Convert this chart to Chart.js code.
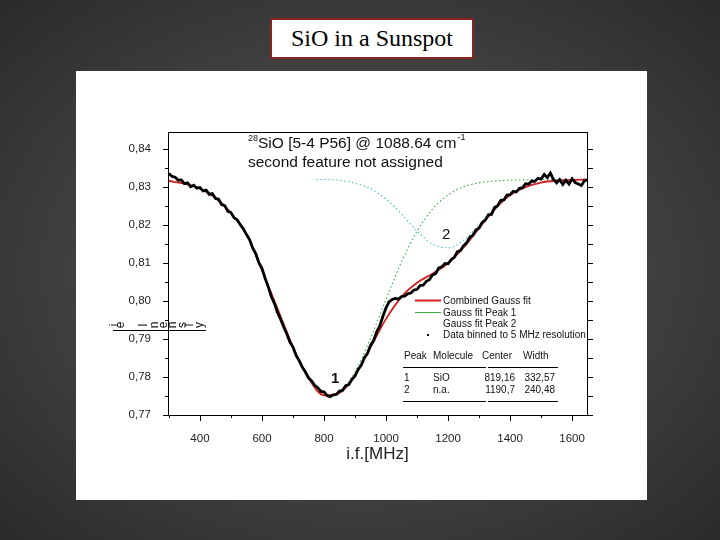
<!DOCTYPE html>
<html>
<head>
<meta charset="utf-8">
<script src="https://cdn.jsdelivr.net/npm/chart.js@4.4.0/dist/chart.umd.min.js"></script>
<style>
html, body { margin: 0; padding: 0; width: 720px; height: 540px; overflow: hidden; }
body {
    position: relative;
    background: radial-gradient(ellipse at 50% 50%, #5a5a5a 0%, #454545 45%, #2a2a2a 100%);
}
#slideTitle {
    position: absolute; left: 270px; top: 18px; width: 200px; height: 37px;
    background: #fff; border: 2px solid #8a2323;
    font-family: "Liberation Serif", "Times New Roman", serif; font-size: 24px;
    line-height: 37px; text-align: center; color: #000;
}
#panel { position: absolute; left: 76px; top: 71px; width: 571px; height: 429px; background: #fff; }
#energy { position: absolute; left: 0; top: 0; }
</style>
</head>
<body>
<div id="slideTitle">SiO in a Sunspot</div>
<div id="panel"></div>
<canvas id="energy" width="720" height="540"></canvas>
<script>
const dataFreq = [
    300, 310, 320, 330, 340, 350, 360, 370, 380, 390,
    400, 410, 420, 430, 440, 450, 460, 470, 480, 490,
    500, 510, 520, 530, 540, 550, 560, 570, 580, 590,
    600, 610, 620, 630, 640, 650, 660, 670, 680, 690,
    700, 710, 720, 730, 740, 750, 760, 770, 780, 790,
    800, 810, 820, 830, 840, 850, 860, 870, 880, 890,
    900, 910, 920, 930, 940, 950, 960, 970, 980, 990,
    1000, 1010, 1020, 1030, 1040, 1050, 1060, 1070, 1080, 1090,
    1100, 1110, 1120, 1130, 1140, 1150, 1160, 1170, 1180, 1190,
    1200, 1210, 1220, 1230, 1240, 1250, 1260, 1270, 1280, 1290,
    1300, 1310, 1320, 1330, 1340, 1350, 1360, 1370, 1380, 1390,
    1400, 1410, 1420, 1430, 1440, 1450, 1460, 1470, 1480, 1490,
    1500, 1510, 1520, 1530, 1540, 1550, 1560, 1570, 1580, 1590,
    1600, 1610, 1620, 1630, 1640, 1650
];
const dataValue = [
    0.8336, 0.8328, 0.8326, 0.8318, 0.8319, 0.8309, 0.8311, 0.8301, 0.8305, 0.8297,
    0.8299, 0.8290, 0.8292, 0.8281, 0.8283, 0.8270, 0.8268, 0.8254, 0.8251, 0.8236,
    0.8233, 0.8219, 0.8214, 0.8201, 0.8190, 0.8175, 0.8162, 0.8140, 0.8125, 0.8101,
    0.8086, 0.8060, 0.8038, 0.8012, 0.7994, 0.7970, 0.7952, 0.7932, 0.7914, 0.7892,
    0.7879, 0.7857, 0.7843, 0.7826, 0.7813, 0.7798, 0.7790, 0.7778, 0.7772, 0.7762,
    0.7761, 0.7751, 0.7748, 0.7753, 0.7754, 0.7763, 0.7765, 0.7777, 0.7780, 0.7794,
    0.7803, 0.7820, 0.7831, 0.7851, 0.7862, 0.7883, 0.7896, 0.7919, 0.7935, 0.7960,
    0.7982, 0.7998, 0.8004, 0.8007, 0.8005, 0.8012, 0.8013, 0.8019, 0.8021, 0.8029,
    0.8031, 0.8041, 0.8042, 0.8052, 0.8056, 0.8069, 0.8072, 0.8087, 0.8090, 0.8099,
    0.8098, 0.8109, 0.8115, 0.8130, 0.8133, 0.8146, 0.8153, 0.8168, 0.8173, 0.8187,
    0.8192, 0.8207, 0.8213, 0.8227, 0.8228, 0.8246, 0.8251, 0.8265, 0.8266, 0.8279,
    0.8280, 0.8289, 0.8287, 0.8297, 0.8298, 0.8309, 0.8308, 0.8316, 0.8315, 0.8323,
    0.8321, 0.8333, 0.8325, 0.8337, 0.8320, 0.8311, 0.8320, 0.8307, 0.8318, 0.8308,
    0.8322, 0.8312, 0.8308, 0.8304, 0.8317, 0.8318
];

// Fit curves (every 50 MHz)
const fitFreq = [
    300, 350, 400, 450, 500, 550, 600, 650, 700, 750,
    800, 850, 900, 950, 1000, 1050, 1100, 1150, 1200, 1250,
    1300, 1350, 1400, 1450, 1500, 1550, 1600, 1650
];
const combinedFit = [
    0.8316, 0.8309, 0.8296, 0.8272, 0.8232, 0.8176, 0.8081, 0.7980, 0.7879, 0.7797,
    0.7752, 0.7758, 0.7804, 0.7878, 0.7953, 0.8011, 0.8048, 0.8072, 0.8099, 0.8141,
    0.8192, 0.8241, 0.8279, 0.8300, 0.8312, 0.8317, 0.8319, 0.8320
];
const peak1Fit = [
    0.8316, 0.8309, 0.8296, 0.8272, 0.8232, 0.8176, 0.8081, 0.7980, 0.7879, 0.7797,
    0.7752, 0.7760, 0.7814, 0.7902, 0.8005, 0.8103, 0.8184, 0.8242, 0.8279, 0.8301,
    0.8311, 0.8316, 0.8318, 0.8319, 0.8320, 0.8320, 0.8320, 0.8320
];
const peak2Freq = [
    775, 800, 850, 900, 950, 1000, 1050, 1100, 1150, 1200,
    1250, 1300, 1350, 1400, 1450, 1500, 1550, 1600, 1650
];
const peak2Fit = [
    0.8320, 0.8320, 0.8318, 0.8310, 0.8296, 0.8268, 0.8229, 0.8184, 0.8150, 0.8140,
    0.8160, 0.8201, 0.8245, 0.8281, 0.8302, 0.8313, 0.8318, 0.8320, 0.8320
];

// Axis ticks
const xMajorTicks = [400, 600, 800, 1000, 1200, 1400, 1600];
const xMinorTicks = [300, 500, 700, 900, 1100, 1300, 1500];
const yMajorTicks = [0.77, 0.78, 0.79, 0.80, 0.81, 0.82, 0.83, 0.84];
const yMinorTicks = [0.775, 0.785, 0.795, 0.805, 0.815, 0.825, 0.835];

// Legend and peak table text
const legendLabels = ['Combined Gauss fit', 'Gauss fit Peak 1', 'Gauss fit Peak 2', 'Data binned to 5 MHz resolution'];
const tableHeader = ['Peak', 'Molecule', 'Center', 'Width'];
const tableRows = [
    ['1', 'SiO', '819,16', '332,57'],
    ['2', 'n.a.', '1190,7', '240,48']
];

function pairs(xs, ys) {
    return xs.map((x, i) => ({ x: x, y: ys[i] }));
}

// Frame, tick marks and all the text drawn inside the plot
const extras = {
    id: 'extras',
    afterDraw(chart) {
        const ctx = chart.ctx;
        const a = chart.chartArea;
        const x = chart.scales.x;
        const y = chart.scales.y;
        ctx.save();
        ctx.strokeStyle = '#000';
        ctx.lineWidth = 1;
        ctx.strokeRect(Math.round(a.left) + 0.5, Math.round(a.top) + 0.5,
            Math.round(a.right - a.left), Math.round(a.bottom - a.top));

        ctx.beginPath();
        xMajorTicks.forEach(v => {
            const px = Math.round(x.getPixelForValue(v)) + 0.5;
            ctx.moveTo(px, a.bottom); ctx.lineTo(px, a.bottom + 6);
        });
        xMinorTicks.forEach(v => {
            const px = Math.round(x.getPixelForValue(v)) + 0.5;
            ctx.moveTo(px, a.bottom); ctx.lineTo(px, a.bottom + 3);
        });
        yMajorTicks.forEach(v => {
            const py = Math.round(y.getPixelForValue(v)) + 0.5;
            ctx.moveTo(a.left - 5, py); ctx.lineTo(a.left, py);
            ctx.moveTo(a.right, py); ctx.lineTo(a.right + 6, py);
        });
        yMinorTicks.forEach(v => {
            const py = Math.round(y.getPixelForValue(v)) + 0.5;
            ctx.moveTo(a.left - 3, py); ctx.lineTo(a.left, py);
            ctx.moveTo(a.right, py); ctx.lineTo(a.right + 6, py);
        });
        ctx.stroke();

        ctx.fillStyle = '#111';
        ctx.textBaseline = 'alphabetic';
        ctx.textAlign = 'left';

        // header note
        ctx.font = '9px Arial, "Liberation Sans"';
        ctx.fillText('28', 248, 141);
        ctx.font = '15.5px Arial, "Liberation Sans"';
        ctx.fillText('SiO [5-4 P56] @ 1088.64 cm', 258, 148);
        const w1 = ctx.measureText('SiO [5-4 P56] @ 1088.64 cm').width;
        ctx.font = '9px Arial, "Liberation Sans"';
        ctx.fillText('-1', 258 + w1 + 1, 140);
        ctx.font = '15.5px Arial, "Liberation Sans"';
        ctx.fillText('second feature not assigned', 248, 167);

        // peak labels
        ctx.font = '15px Arial, "Liberation Sans"';
        ctx.fillText('2', 442, 239);
        ctx.font = 'bold 15px Arial, "Liberation Sans"';
        ctx.fillText('1', 331, 383);

        // legend
        ctx.lineWidth = 2;
        ctx.strokeStyle = '#d42020';
        ctx.beginPath(); ctx.moveTo(415, 300.5); ctx.lineTo(441, 300.5); ctx.stroke();
        ctx.lineWidth = 1;
        ctx.strokeStyle = '#3cb043';
        ctx.beginPath(); ctx.moveTo(415, 312.5); ctx.lineTo(441, 312.5); ctx.stroke();
        ctx.fillRect(427, 334, 2, 2);
        ctx.font = '10px Arial, "Liberation Sans"';
        const legendY = [304, 316, 327, 338];
        legendLabels.forEach((t, i) => ctx.fillText(t, 443, legendY[i]));

        // table
        const colX = [404, 433, 482, 523];
        ctx.font = '10px Arial, "Liberation Sans"';
        tableHeader.forEach((t, i) => ctx.fillText(t, colX[i], 359));
        const rowY = [381, 393];
        const rightX = [null, null, 515, 555];
        tableRows.forEach((row, r) => {
            row.forEach((t, i) => {
                if (rightX[i]) {
                    ctx.textAlign = 'right';
                    ctx.fillText(t, rightX[i], rowY[r]);
                    ctx.textAlign = 'left';
                } else {
                    ctx.fillText(t, colX[i], rowY[r]);
                }
            });
        });
        ctx.strokeStyle = '#000';
        ctx.lineWidth = 1;
        ctx.beginPath();
        ctx.moveTo(403, 367.5); ctx.lineTo(486, 367.5);
        ctx.moveTo(488, 367.5); ctx.lineTo(558, 367.5);
        ctx.moveTo(403, 401.5); ctx.lineTo(486, 401.5);
        ctx.moveTo(488, 401.5); ctx.lineTo(558, 401.5);
        ctx.stroke();

        // the y title, drawn as rotated glyphs lying in a row
        const yTitle = [['i', 115], ['e', 121], ['I', 144], ['n', 155], ['e', 164], ['n', 173], ['s', 183], ['i', 190], ['y', 200]];
        ctx.font = '12px Arial, "Liberation Sans"';
        ctx.textAlign = 'center';
        ctx.textBaseline = 'middle';
        yTitle.forEach(([c, px]) => {
            ctx.save();
            ctx.translate(px, 325);
            ctx.rotate(-Math.PI / 2);
            ctx.fillText(c, 0, 0);
            ctx.restore();
        });
        ctx.beginPath(); ctx.moveTo(113, 330.5); ctx.lineTo(206, 330.5); ctx.stroke();
        ctx.restore();
    }
};

const ctx = document.getElementById('energy').getContext('2d');
const spectrumChart = new Chart(ctx, {
    type: 'line',
    data: {
        datasets: [
            {
                label: 'Data binned to 5 MHz resolution',
                data: pairs(dataFreq, dataValue),
                borderColor: '#000',
                borderWidth: 2.8,
                pointRadius: 0,
                order: 0
            },
            {
                label: 'Combined Gauss fit',
                data: pairs(fitFreq, combinedFit),
                borderColor: '#d42020',
                borderWidth: 1.8,
                pointRadius: 0,
                cubicInterpolationMode: 'monotone',
                order: 1
            },
            {
                label: 'Gauss fit Peak 1',
                data: pairs(fitFreq, peak1Fit),
                borderColor: '#3cb043',
                borderWidth: 1.1,
                borderDash: [1.5, 2.5],
                pointRadius: 0,
                cubicInterpolationMode: 'monotone',
                order: 2
            },
            {
                label: 'Gauss fit Peak 2',
                data: pairs(peak2Freq, peak2Fit),
                borderColor: '#3fc4d4',
                borderWidth: 1.1,
                borderDash: [1.5, 2.5],
                pointRadius: 0,
                cubicInterpolationMode: 'monotone',
                order: 3
            }
        ]
    },
    options: {
        responsive: false,
        animation: false,
        devicePixelRatio: 1,
        layout: { padding: { left: 0, right: 133, top: 132, bottom: 70 } },
        plugins: {
            legend: { display: false },
            tooltip: { enabled: false }
        },
        scales: {
            x: {
                type: 'linear',
                min: 297,
                max: 1648,
                afterBuildTicks: s => { s.ticks = xMajorTicks.map(v => ({ value: v })); },
                afterFit: s => { s.height = 55; },
                grid: { display: false },
                border: { display: false },
                ticks: {
                    autoSkip: false,
                    maxRotation: 0,
                    padding: 9,
                    color: '#222',
                    font: { family: 'Arial, "Liberation Sans"', size: 11.5 },
                    callback: v => String(v)
                },
                title: {
                    display: true,
                    text: 'i.f.[MHz]',
                    color: '#222',
                    padding: { top: 0, bottom: 5 },
                    font: { family: 'Arial, "Liberation Sans"', size: 17 }
                }
            },
            y: {
                type: 'linear',
                min: 0.77,
                max: 0.8445,
                afterBuildTicks: s => { s.ticks = yMajorTicks.map(v => ({ value: v })); },
                afterFit: s => { s.width = 168; },
                grid: { display: false },
                border: { display: false },
                ticks: {
                    padding: 9,
                    color: '#222',
                    font: { family: 'Arial, "Liberation Sans"', size: 11.5 },
                    callback: v => v.toFixed(2).replace('.', ',')
                }
            }
        }
    },
    plugins: [extras]
});
</script>
</body>
</html>
